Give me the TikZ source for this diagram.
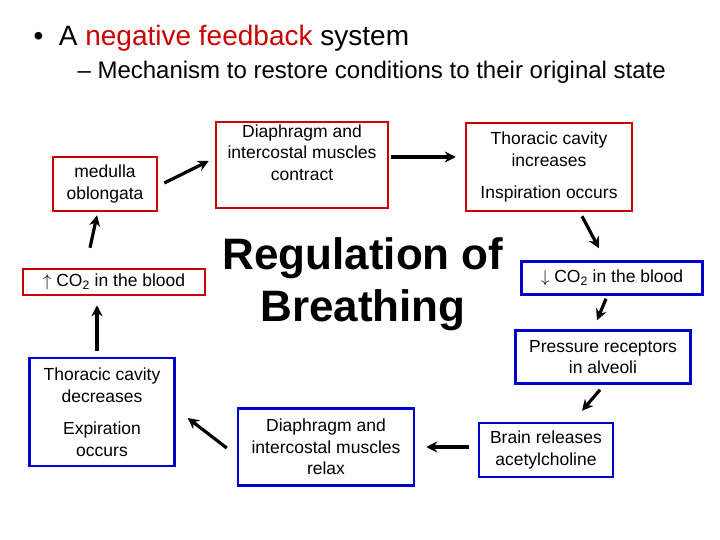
\documentclass[tikz,border=0pt]{standalone}
\usepackage{fontspec}
\setmainfont{Liberation Sans}
\usepackage{tikz}
\usetikzlibrary{arrows.meta,positioning}
\definecolor{boxred}{RGB}{204,0,0}
\definecolor{boxblue}{RGB}{0,0,204}

\begin{document}
\begin{tikzpicture}[
    x=1pt, y=-1pt,
    redbox/.style={rectangle, draw=boxred, line width=2.5pt, align=center, inner sep=2pt, font=\fontsize{17.5}{21.5}\selectfont},
    bluebox/.style={rectangle, draw=boxblue, line width=2.5pt, align=center, inner sep=2pt, font=\fontsize{17.5}{21.5}\selectfont},
    arr/.style={line width=3.2pt, -{Stealth[length=11pt,width=11pt]}}
]
\useasboundingbox (0,0) rectangle (720,540);

% Heading
\node[anchor=base west, font=\fontsize{28}{32}\selectfont] (bul) at (30,46) {\textbullet\ \ A \textcolor{boxred}{negative feedback} system};
\node[anchor=base west, font=\fontsize{24}{28}\selectfont] (sub) at (74,79) {-- Mechanism to restore conditions to their original state};

% Title
\node[align=center, font=\fontsize{44}{52}\selectfont\bfseries] (title) at (363,284) {Regulation of\\Breathing};

% Boxes
\node[redbox, minimum width=104pt, minimum height=54pt] (med) at (105,184) {medulla\\oblongata};
\node[redbox, minimum width=182pt, minimum height=26pt, inner sep=1pt] (up) at (114,282) {$\uparrow$ CO\textsubscript{2} in the blood};
\node[redbox, minimum width=172pt, minimum height=86pt] (con) at (302,165) {Diaphragm and\\intercostal muscles\\contract\\[4pt]};
\node[redbox, minimum width=166pt, minimum height=88pt] (inc) at (549,167) {Thoracic cavity\\increases\\[11pt]Inspiration occurs};
\node[bluebox, minimum width=181pt, minimum height=33pt] (down) at (612,278) {$\downarrow$ CO\textsubscript{2} in the blood};
\node[bluebox, minimum width=175pt, minimum height=53pt] (press) at (603,357) {Pressure receptors\\in alveoli};
\node[bluebox, minimum width=134pt, minimum height=54pt] (brain) at (546,450) {Brain releases\\acetylcholine};
\node[bluebox, minimum width=176pt, minimum height=77pt] (relax) at (326,447) {Diaphragm and\\intercostal muscles\\relax};
\node[bluebox, minimum width=145pt, minimum height=108pt] (dec) at (102,412) {Thoracic cavity\\decreases\\[11pt]Expiration\\occurs};

% Cycle arrows
\draw[arr] ([shift={(6,-1)}]med.east) -- ([shift={(-6,-4)}]con.west);
\draw[arr] ([shift={(2,-8)}]con.east) -- ([shift={(-9,-10)}]inc.west);
\draw[arr] ([shift={(33,4)}]inc.south) -- ([shift={(-13,-12)}]down.north);
\draw[arr] ([shift={(-6,3)}]down.south) -- ([shift={(-6,-9)}]press.north);
\draw[arr] ([shift={(-3,5)}]press.south) -- ([shift={(36,-11)}]brain.north);
\draw[arr] ([shift={(-9,-3)}]brain.west) -- ([shift={(11,0)}]relax.east);
\draw[arr] ([shift={(-10,1)}]relax.west) -- ([shift={(12,6)}]dec.east);
\draw[arr] ([shift={(-5,-6)}]dec.north) -- ([shift={(-17,9)}]up.south);
\draw[arr] ([shift={(-24,-20)}]up.north) -- ([shift={(-8,3)}]med.south);

\end{tikzpicture}
\end{document}
